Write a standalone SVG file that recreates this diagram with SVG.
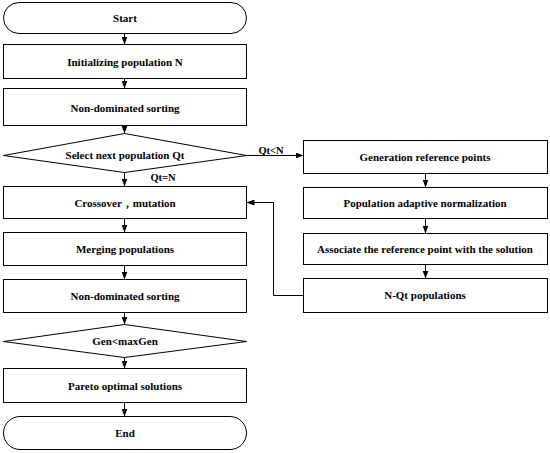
<svg xmlns="http://www.w3.org/2000/svg" width="550" height="453" viewBox="0 0 550 453">
<defs>
<marker id="ah" markerWidth="8" markerHeight="6" refX="8" refY="3" orient="auto" markerUnits="userSpaceOnUse">
<path d="M0,0 L8,3 L0,6 Z" fill="#000"/>
</marker>
<style>
.s{fill:#fff;stroke:#000;stroke-width:1}
.t{font-family:'Liberation Serif','Times New Roman',serif;font-weight:bold;font-size:11px;text-anchor:middle;dominant-baseline:central;fill:#000}
.l{font-size:10.5px}
.c{fill:none;stroke:#000;stroke-width:1;marker-end:url(#ah)}
</style>
</defs>
<rect width="550" height="453" fill="#fff"/>
<g id="start"><rect class="s" x="3.5" y="2.5" width="243" height="31" rx="15.5"/><text class="t" x="125" y="18">Start</text></g>
<g id="init"><rect class="s" x="3.5" y="44.5" width="243" height="34"/><text class="t" x="125" y="62">Initializing population N</text></g>
<g id="sort1"><rect class="s" x="3.5" y="88.5" width="243" height="37"/><text class="t" x="125" y="108">Non-dominated sorting</text></g>
<g id="select"><polygon class="s" points="124.5,133.5 246.5,155.5 124.5,172.5 3.5,155.5"/><text class="t" x="125" y="155">Select next population Qt</text></g>
<g id="cross"><rect class="s" x="3.5" y="186.5" width="243" height="32"/><text class="t" x="125" y="203">Crossover，mutation</text></g>
<g id="merge"><rect class="s" x="3.5" y="232.5" width="243" height="33"/><text class="t" x="125" y="249">Merging populations</text></g>
<g id="sort2"><rect class="s" x="3.5" y="279.5" width="243" height="33"/><text class="t" x="125" y="296">Non-dominated sorting</text></g>
<g id="gen"><polygon class="s" points="124.5,324.5 246.5,341.5 124.5,357.5 3.5,341.5"/><text class="t" x="125" y="341">Gen&lt;maxGen</text></g>
<g id="pareto"><rect class="s" x="3.5" y="368.5" width="243" height="34"/><text class="t" x="125" y="386">Pareto optimal solutions</text></g>
<g id="end"><rect class="s" x="3.5" y="416.5" width="243" height="33" rx="16.5"/><text class="t" x="125" y="433">End</text></g>
<g id="genref"><rect class="s" x="303.5" y="140.5" width="244" height="33"/><text class="t" x="425" y="157">Generation reference points</text></g>
<g id="norm"><rect class="s" x="303.5" y="187.5" width="244" height="31"/><text class="t" x="425" y="203">Population adaptive normalization</text></g>
<g id="assoc"><rect class="s" x="303.5" y="233.5" width="244" height="31"/><text class="t" x="425" y="249">Associate the reference point with the solution</text></g>
<g id="nqt"><rect class="s" x="303.5" y="278.5" width="244" height="34"/><text class="t" x="425" y="295">N-Qt populations</text></g>
<g id="connectors">
<line class="c" x1="124.5" y1="33.5" x2="124.5" y2="44.5"/>
<line class="c" x1="124.5" y1="78.5" x2="124.5" y2="88.5"/>
<line class="c" x1="124.5" y1="125.5" x2="124.5" y2="133.5"/>
<line class="c" x1="124.5" y1="172.5" x2="124.5" y2="186.5"/>
<line class="c" x1="124.5" y1="218.5" x2="124.5" y2="232.5"/>
<line class="c" x1="124.5" y1="265.5" x2="124.5" y2="279.5"/>
<line class="c" x1="124.5" y1="312.5" x2="124.5" y2="324.5"/>
<line class="c" x1="124.5" y1="357.5" x2="124.5" y2="368.5"/>
<line class="c" x1="124.5" y1="402.5" x2="124.5" y2="416.5"/>
<line class="c" x1="246.5" y1="155.5" x2="303.5" y2="155.5"/>
<line class="c" x1="425.5" y1="173.5" x2="425.5" y2="187.5"/>
<line class="c" x1="425.5" y1="218.5" x2="425.5" y2="233.5"/>
<line class="c" x1="425.5" y1="264.5" x2="425.5" y2="278.5"/>
<polyline class="c" points="303.5,295.5 273.5,295.5 273.5,202.5 246.5,202.5"/>
<text class="t l" x="271" y="150">Qt&lt;N</text>
<text class="t l" x="163" y="177">Qt=N</text>
</g>
</svg>
